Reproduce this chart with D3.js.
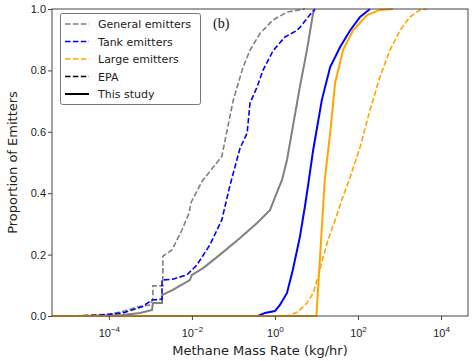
<!DOCTYPE html>
<html>
<head>
<meta charset="utf-8">
<script src="https://cdn.jsdelivr.net/npm/d3@7"></script>
<style>
body{margin:0;background:#fff;}
svg{display:block;font-family:"DejaVu Sans",sans-serif;}
</style>
</head>
<body>
<svg id="chart" width="474" height="361"></svg>
<script>
var width = 474, height = 361;
var marge = {top:9,bottom:45,left:52,right:6};

// curves: [log10 rate (kg/hr), proportion]
var generalEPA = [[-4.82,0],[-4.5,0.003],[-4.0,0.005],[-3.66,0.015],[-3.3,0.03],[-3.0,0.036],[-2.94,0.058],[-2.94,0.098],[-2.70,0.098],[-2.70,0.195],[-2.48,0.215],[-2.24,0.28],[-2.07,0.335],[-2.02,0.37],[-1.75,0.44],[-1.57,0.47],[-1.28,0.52],[-1.16,0.6],[-1.01,0.70],[-0.77,0.81],[-0.6,0.866],[-0.36,0.92],[-0.05,0.964],[0.29,0.99],[0.72,1.0]];
var generalStudy = [[-4.3,0],[-3.66,0.003],[-3.25,0.01],[-2.96,0.02],[-2.94,0.042],[-2.72,0.042],[-2.72,0.068],[-2.46,0.085],[-2.05,0.117],[-2.0,0.134],[-1.73,0.156],[-1.33,0.199],[-0.84,0.254],[-0.43,0.303],[-0.12,0.345],[0.07,0.41],[0.17,0.443],[0.29,0.508],[0.43,0.616],[0.60,0.746],[0.77,0.866],[0.92,0.987],[0.96,1.0]];
var tankEPA = [[-4.8,0],[-4.2,0.003],[-3.66,0.01],[-3.2,0.03],[-2.96,0.052],[-2.72,0.055],[-2.72,0.117],[-2.46,0.12],[-2.12,0.134],[-1.88,0.166],[-1.57,0.231],[-1.28,0.313],[-1.08,0.427],[-0.84,0.547],[-0.67,0.596],[-0.60,0.694],[-0.43,0.746],[-0.29,0.80],[-0.05,0.863],[0.24,0.909],[0.53,0.93],[0.60,0.94],[0.80,0.974],[0.96,1.0]];
var tankStudy = [[-0.41,0],[-0.24,0.01],[-0.12,0.013],[0,0.016],[0.12,0.036],[0.29,0.075],[0.43,0.15],[0.60,0.257],[0.72,0.355],[0.80,0.427],[0.92,0.54],[1.13,0.704],[1.33,0.811],[1.57,0.876],[1.81,0.93],[2.05,0.974],[2.29,1.0]];
var largeEPA = [[0.24,0],[0.36,0.003],[0.55,0.013],[0.77,0.042],[0.92,0.075],[1.04,0.127],[1.16,0.192],[1.28,0.248],[1.45,0.313],[1.61,0.378],[1.78,0.44],[2.05,0.55],[2.29,0.671],[2.53,0.779],[2.77,0.866],[3.01,0.93],[3.25,0.974],[3.49,0.997],[3.66,1.0]];
var largeStudy = [[-5.37,0],[0.99,0],[1.0,0.003],[1.2,0.443],[1.33,0.596],[1.45,0.76],[1.64,0.866],[1.88,0.93],[2.22,0.98],[2.53,0.997],[2.84,1.0]];

var xTicks = [1e-4,1e-2,1,1e2,1e4];
var xTickExp = ["\u22124","\u22122","0","2","4"];
var yTicks = [0,0.2,0.4,0.6,0.8,1.0];
var legendNames = ["General emitters","Tank emitters","Large emitters","EPA","This study"];
var legendColors = ["#808080","#0000ff","#ffa500","#000000","#000000"];
var legendDash = [true,true,true,true,false];

var svg = d3.select("#chart");
var x = d3.scaleLog().domain([Math.pow(10,-5.37),Math.pow(10,4.65)]).range([marge.left,width-marge.right]);
var y = d3.scaleLinear().domain([0,1]).range([height-marge.bottom,marge.top]);

var line = d3.line()
    .x(function(d){return x(Math.pow(10,d[0]));})
    .y(function(d){return y(d[1]);});

var series = [
  {data:generalEPA,color:"#808080",dash:true},
  {data:generalStudy,color:"#808080",dash:false},
  {data:tankEPA,color:"#0000ff",dash:true},
  {data:tankStudy,color:"#0000ff",dash:false},
  {data:largeEPA,color:"#ffa500",dash:true},
  {data:largeStudy,color:"#ffa500",dash:false}
];

svg.append("clipPath").attr("id","clip").append("rect")
   .attr("x",marge.left).attr("y",marge.top-2)
   .attr("width",width-marge.left-marge.right).attr("height",height-marge.top-marge.bottom+3);

svg.append("g").attr("clip-path","url(#clip)").selectAll("path")
   .data(series).enter().append("path")
   .attr("d",function(d){return line(d.data);})
   .attr("fill","none")
   .attr("stroke",function(d){return d.color;})
   .attr("stroke-width",function(d){return d.dash?1.6:2;})
   .attr("stroke-dasharray",function(d){return d.dash?"5.5,2.4":null;});

// frame
svg.append("rect")
   .attr("x",marge.left).attr("y",marge.top)
   .attr("width",width-marge.left-marge.right).attr("height",height-marge.top-marge.bottom)
   .attr("fill","none").attr("stroke","#444").attr("stroke-width",1);

// x axis
var xAxis = svg.append("g").attr("transform","translate(0,"+(height-marge.bottom)+")")
   .call(d3.axisBottom(x).tickValues(xTicks).tickSize(4).tickFormat(""));
xAxis.select(".domain").remove();
xAxis.selectAll(".tick line").attr("stroke","#444");
xAxis.selectAll(".tick").append("text")
   .attr("y",21).attr("fill","#222").attr("text-anchor","middle").attr("font-size",11)
   .each(function(d,i){
      var t = d3.select(this);
      t.append("tspan").text("10");
      t.append("tspan").attr("dy",-5).attr("font-size",8).text(xTickExp[i]);
   });

// y axis
var yAxis = svg.append("g").attr("transform","translate("+marge.left+",0)")
   .call(d3.axisLeft(y).tickValues(yTicks).tickSize(4).tickFormat(d3.format(".1f")));
yAxis.select(".domain").remove();
yAxis.selectAll(".tick line").attr("stroke","#444");
yAxis.selectAll(".tick text").attr("font-size",11).attr("fill","#222").attr("x",-6);

// axis titles
svg.append("text").attr("x",(marge.left+width-marge.right)/2).attr("y",355)
   .attr("text-anchor","middle").attr("font-size",13).attr("fill","#222")
   .text("Methane Mass Rate (kg/hr)");
svg.append("text").attr("transform","translate(17,"+((marge.top+height-marge.bottom)/2)+") rotate(-90)")
   .attr("text-anchor","middle").attr("font-size",13).attr("fill","#222")
   .text("Proportion of Emitters");

// legend
var lg = svg.append("g");
lg.append("rect").attr("x",60.5).attr("y",13.5).attr("width",140).attr("height",91).attr("rx",2)
  .attr("fill","#fff").attr("fill-opacity",0.85).attr("stroke","#777");
legendNames.forEach(function(n,i){
   var yy = 24 + i*17.5;
   lg.append("line").attr("x1",65).attr("x2",89).attr("y1",yy).attr("y2",yy)
     .attr("stroke",legendColors[i]).attr("stroke-width",legendDash[i]?1.6:2)
     .attr("stroke-dasharray",legendDash[i]?"5.5,2.4":null);
   lg.append("text").attr("x",98).attr("y",yy+4).attr("font-size",11).attr("fill","#222").text(n);
});

svg.append("text").attr("x",213).attr("y",28).attr("font-family","'Liberation Serif',serif")
   .attr("font-size",14).attr("fill","#111").text("(b)");
</script>
</body>
</html>
